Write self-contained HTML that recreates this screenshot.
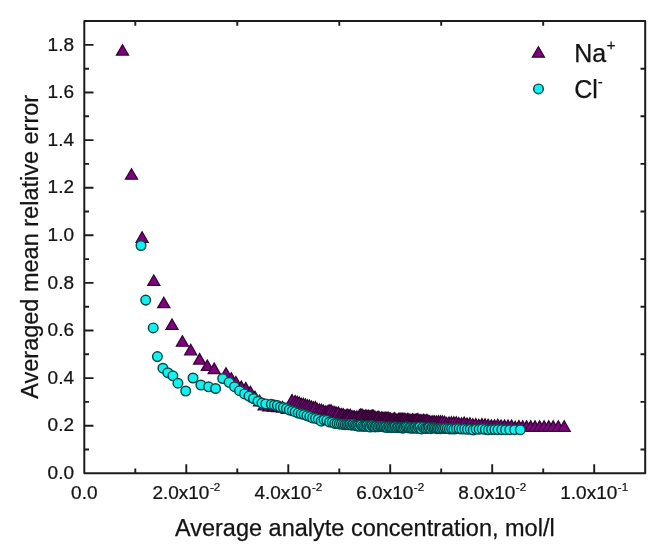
<!DOCTYPE html>
<html lang="en"><head><meta charset="utf-8"><title>Averaged mean relative error vs average analyte concentration</title>
<style>html,body{margin:0;padding:0;background:#fff}body{width:656px;height:551px;overflow:hidden}svg{display:block}text{font-family:"Liberation Sans",Arial,sans-serif;fill:#141414;stroke:#141414;stroke-width:.25px}.tk{font-size:18px}.sup{font-size:11px}.ti{font-size:23.5px}.lg{font-size:25px}.lgs{font-size:15px}</style></head><body>
<svg width="656" height="551" viewBox="0 0 656 551">
<rect width="656" height="551" fill="#fff"/>
<g fill="#800080" stroke="#330433" stroke-width="1.3" stroke-linejoin="miter">
<path d="M122.5 44.7L128.5 55.1L116.5 55.1Z"/>
<path d="M131.5 168.8L137.5 179.2L125.5 179.2Z"/>
<path d="M142.1 231.9L148.1 242.3L136.1 242.3Z"/>
<path d="M153.8 275.0L159.8 285.4L147.8 285.4Z"/>
<path d="M163.8 297.3L169.8 307.7L157.8 307.7Z"/>
<path d="M172.0 319.0L178.0 329.4L166.0 329.4Z"/>
<path d="M182.4 335.8L188.4 346.2L176.4 346.2Z"/>
<path d="M190.7 344.4L196.7 354.8L184.7 354.8Z"/>
<path d="M199.6 353.6L205.6 364.0L193.6 364.0Z"/>
<path d="M207.3 360.0L213.3 370.4L201.3 370.4Z"/>
<path d="M214.2 363.1L220.2 373.5L208.2 373.5Z"/>
<path d="M226.0 367.7L232.0 378.1L220.0 378.1Z"/>
<path d="M231.3 372.7L237.3 383.1L225.3 383.1Z"/>
<path d="M235.9 376.5L241.9 386.9L229.9 386.9Z"/>
<path d="M241.3 381.1L247.3 391.5L235.3 391.5Z"/>
<path d="M245.8 382.6L251.8 393.0L239.8 393.0Z"/>
<path d="M250.4 386.4L256.4 396.8L244.4 396.8Z"/>
<path d="M255.0 391.3L261.0 401.7L249.0 401.7Z"/>
<path d="M259.6 395.4L265.6 405.8L253.6 405.8Z"/>
<path d="M264.2 399.4L270.2 409.8L258.2 409.8Z"/>
<path d="M268.8 400.5L274.8 410.9L262.8 410.9Z"/>
<path d="M273.4 400.8L279.4 411.2L267.4 411.2Z"/>
<path d="M278.0 401.1L284.0 411.5L272.0 411.5Z"/>
<path d="M282.6 401.6L288.6 412.0L276.6 412.0Z"/>
<path d="M287.2 403.0L293.2 413.4L281.2 413.4Z"/>
<path d="M292.0 394.6L298.0 405.0L286.0 405.0Z"/>
<path d="M295.1 395.6L301.1 406.0L289.1 406.0Z"/>
<path d="M297.2 396.3L303.2 406.7L291.2 406.7Z"/>
<path d="M299.3 397.0L305.3 407.4L293.3 407.4Z"/>
<path d="M301.3 398.4L307.3 408.8L295.3 408.8Z"/>
<path d="M303.4 398.2L309.4 408.6L297.4 408.6Z"/>
<path d="M305.4 399.1L311.4 409.5L299.4 409.5Z"/>
<path d="M307.4 399.9L313.4 410.3L301.4 410.3Z"/>
<path d="M309.4 400.0L315.4 410.4L303.4 410.4Z"/>
<path d="M311.5 401.1L317.5 411.5L305.5 411.5Z"/>
<path d="M313.5 401.7L319.5 412.1L307.5 412.1Z"/>
<path d="M315.4 401.6L321.4 412.0L309.4 412.0Z"/>
<path d="M317.4 403.6L323.4 414.0L311.4 414.0Z"/>
<path d="M319.4 404.0L325.4 414.4L313.4 414.4Z"/>
<path d="M321.4 404.2L327.4 414.6L315.4 414.6Z"/>
<path d="M323.3 405.1L329.3 415.5L317.3 415.5Z"/>
<path d="M325.3 406.0L331.3 416.4L319.3 416.4Z"/>
<path d="M327.2 405.7L333.2 416.1L321.2 416.1Z"/>
<path d="M329.1 404.8L335.1 415.2L323.1 415.2Z"/>
<path d="M331.0 404.8L337.0 415.2L325.0 415.2Z"/>
<path d="M333.0 406.3L339.0 416.7L327.0 416.7Z"/>
<path d="M334.9 406.6L340.9 417.0L328.9 417.0Z"/>
<path d="M336.7 407.3L342.7 417.7L330.7 417.7Z"/>
<path d="M338.4 407.0L344.4 417.4L332.4 417.4Z"/>
<path d="M340.1 408.9L346.1 419.3L334.1 419.3Z"/>
<path d="M341.8 408.6L347.8 419.0L335.8 419.0Z"/>
<path d="M343.3 408.7L349.3 419.1L337.3 419.1Z"/>
<path d="M344.8 410.1L350.8 420.5L338.8 420.5Z"/>
<path d="M346.3 409.5L352.3 419.9L340.3 419.9Z"/>
<path d="M347.7 409.2L353.7 419.6L341.7 419.6Z"/>
<path d="M349.0 409.9L355.0 420.3L343.0 420.3Z"/>
<path d="M350.3 409.4L356.3 419.8L344.3 419.8Z"/>
<path d="M351.6 411.2L357.6 421.6L345.6 421.6Z"/>
<path d="M352.9 410.8L358.9 421.2L346.9 421.2Z"/>
<path d="M354.2 410.9L360.2 421.3L348.2 421.3Z"/>
<path d="M355.5 412.0L361.5 422.4L349.5 422.4Z"/>
<path d="M356.8 411.1L362.8 421.5L350.8 421.5Z"/>
<path d="M358.1 412.2L364.1 422.6L352.1 422.6Z"/>
<path d="M359.4 409.7L365.4 420.1L353.4 420.1Z"/>
<path d="M360.7 409.1L366.7 419.5L354.7 419.5Z"/>
<path d="M362.0 409.0L368.0 419.4L356.0 419.4Z"/>
<path d="M363.3 410.4L369.3 420.8L357.3 420.8Z"/>
<path d="M364.6 410.7L370.6 421.1L358.6 421.1Z"/>
<path d="M365.9 409.9L371.9 420.3L359.9 420.3Z"/>
<path d="M367.2 410.6L373.2 421.0L361.2 421.0Z"/>
<path d="M368.5 410.3L374.5 420.7L362.5 420.7Z"/>
<path d="M369.8 410.8L375.8 421.2L363.8 421.2Z"/>
<path d="M371.1 410.3L377.1 420.7L365.1 420.7Z"/>
<path d="M372.4 410.1L378.4 420.5L366.4 420.5Z"/>
<path d="M373.7 410.2L379.7 420.6L367.7 420.6Z"/>
<path d="M375.0 411.3L381.0 421.7L369.0 421.7Z"/>
<path d="M376.3 412.3L382.3 422.7L370.3 422.7Z"/>
<path d="M377.6 411.6L383.6 422.0L371.6 422.0Z"/>
<path d="M378.9 411.4L384.9 421.8L372.9 421.8Z"/>
<path d="M380.2 412.7L386.2 423.1L374.2 423.1Z"/>
<path d="M381.5 412.1L387.5 422.5L375.5 422.5Z"/>
<path d="M382.8 412.2L388.8 422.6L376.8 422.6Z"/>
<path d="M384.1 412.4L390.1 422.8L378.1 422.8Z"/>
<path d="M385.4 412.4L391.4 422.8L379.4 422.8Z"/>
<path d="M386.7 412.5L392.7 422.9L380.7 422.9Z"/>
<path d="M388.0 412.1L394.0 422.5L382.0 422.5Z"/>
<path d="M389.3 413.1L395.3 423.5L383.3 423.5Z"/>
<path d="M390.6 413.0L396.6 423.4L384.6 423.4Z"/>
<path d="M391.9 413.8L397.9 424.2L385.9 424.2Z"/>
<path d="M393.2 413.2L399.2 423.6L387.2 423.6Z"/>
<path d="M394.5 412.7L400.5 423.1L388.5 423.1Z"/>
<path d="M395.8 413.6L401.8 424.0L389.8 424.0Z"/>
<path d="M397.1 414.4L403.1 424.8L391.1 424.8Z"/>
<path d="M398.4 413.5L404.4 423.9L392.4 423.9Z"/>
<path d="M399.7 413.3L405.7 423.7L393.7 423.7Z"/>
<path d="M401.0 413.1L407.0 423.5L395.0 423.5Z"/>
<path d="M402.3 413.2L408.3 423.6L396.3 423.6Z"/>
<path d="M403.6 413.6L409.6 424.0L397.6 424.0Z"/>
<path d="M404.9 413.2L410.9 423.6L398.9 423.6Z"/>
<path d="M406.2 414.4L412.2 424.8L400.2 424.8Z"/>
<path d="M407.5 413.6L413.5 424.0L401.5 424.0Z"/>
<path d="M408.8 413.8L414.8 424.2L402.8 424.2Z"/>
<path d="M410.1 414.4L416.1 424.8L404.1 424.8Z"/>
<path d="M411.4 414.5L417.4 424.9L405.4 424.9Z"/>
<path d="M412.7 413.8L418.7 424.2L406.7 424.2Z"/>
<path d="M414.0 414.2L420.0 424.6L408.0 424.6Z"/>
<path d="M415.3 414.4L421.3 424.8L409.3 424.8Z"/>
<path d="M416.6 414.1L422.6 424.5L410.6 424.5Z"/>
<path d="M417.9 413.5L423.9 423.9L411.9 423.9Z"/>
<path d="M419.2 414.7L425.2 425.1L413.2 425.1Z"/>
<path d="M420.5 414.9L426.5 425.3L414.5 425.3Z"/>
<path d="M421.9 414.8L427.9 425.2L415.9 425.2Z"/>
<path d="M423.3 414.3L429.3 424.7L417.3 424.7Z"/>
<path d="M424.8 414.7L430.8 425.1L418.8 425.1Z"/>
<path d="M426.3 414.6L432.3 425.0L420.3 425.0Z"/>
<path d="M427.8 414.9L433.8 425.3L421.8 425.3Z"/>
<path d="M429.5 415.7L435.5 426.1L423.5 426.1Z"/>
<path d="M431.1 416.0L437.1 426.4L425.1 426.4Z"/>
<path d="M432.9 415.7L438.9 426.1L426.9 426.1Z"/>
<path d="M434.6 415.8L440.6 426.2L428.6 426.2Z"/>
<path d="M436.5 416.0L442.5 426.4L430.5 426.4Z"/>
<path d="M438.4 415.8L444.4 426.2L432.4 426.2Z"/>
<path d="M440.4 415.9L446.4 426.3L434.4 426.3Z"/>
<path d="M442.4 415.8L448.4 426.2L436.4 426.2Z"/>
<path d="M444.6 416.3L450.6 426.7L438.6 426.7Z"/>
<path d="M446.7 417.5L452.7 427.9L440.7 427.9Z"/>
<path d="M449.0 417.0L455.0 427.4L443.0 427.4Z"/>
<path d="M451.4 416.7L457.4 427.1L445.4 427.1Z"/>
<path d="M453.8 416.8L459.8 427.2L447.8 427.2Z"/>
<path d="M456.3 416.8L462.3 427.2L450.3 427.2Z"/>
<path d="M458.8 417.6L464.8 428.0L452.8 428.0Z"/>
<path d="M461.5 417.8L467.5 428.2L455.5 428.2Z"/>
<path d="M464.2 417.1L470.2 427.5L458.2 427.5Z"/>
<path d="M467.0 418.1L473.0 428.5L461.0 428.5Z"/>
<path d="M469.9 417.8L475.9 428.2L463.9 428.2Z"/>
<path d="M472.8 418.9L478.8 429.3L466.8 429.3Z"/>
<path d="M475.8 418.5L481.8 428.9L469.8 428.9Z"/>
<path d="M478.8 419.4L484.8 429.8L472.8 429.8Z"/>
<path d="M481.9 418.6L487.9 429.0L475.9 429.0Z"/>
<path d="M485.0 418.9L491.0 429.3L479.0 429.3Z"/>
<path d="M488.1 419.3L494.1 429.7L482.1 429.7Z"/>
<path d="M491.3 419.9L497.3 430.3L485.3 430.3Z"/>
<path d="M494.5 419.8L500.5 430.2L488.5 430.2Z"/>
<path d="M497.8 419.2L503.8 429.6L491.8 429.6Z"/>
<path d="M501.1 420.0L507.1 430.4L495.1 430.4Z"/>
<path d="M504.5 420.1L510.5 430.5L498.5 430.5Z"/>
<path d="M508.0 420.1L514.0 430.5L502.0 430.5Z"/>
<path d="M511.6 420.1L517.6 430.5L505.6 430.5Z"/>
<path d="M515.2 421.4L521.2 431.8L509.2 431.8Z"/>
<path d="M518.9 420.6L524.9 431.0L512.9 431.0Z"/>
<path d="M522.7 420.9L528.7 431.3L516.7 431.3Z"/>
<path d="M526.6 420.9L532.6 431.3L520.6 431.3Z"/>
<path d="M530.7 420.9L536.7 431.3L524.7 431.3Z"/>
<path d="M535.0 420.9L541.0 431.3L529.0 431.3Z"/>
<path d="M539.6 420.9L545.6 431.3L533.6 431.3Z"/>
<path d="M544.1 420.9L550.1 431.3L538.1 431.3Z"/>
<path d="M548.7 420.9L554.7 431.3L542.7 431.3Z"/>
<path d="M553.2 420.9L559.2 431.3L547.2 431.3Z"/>
<path d="M558.3 420.9L564.3 431.3L552.3 431.3Z"/>
<path d="M564.2 420.9L570.2 431.3L558.2 431.3Z"/>
</g>
<g fill="#12f0f0" stroke="#0a4848" stroke-width="1.45">
<circle cx="141.0" cy="245.5" r="4.8"/>
<circle cx="145.7" cy="300.1" r="4.8"/>
<circle cx="153.2" cy="327.9" r="4.8"/>
<circle cx="157.4" cy="356.6" r="4.8"/>
<circle cx="162.9" cy="368.2" r="4.8"/>
<circle cx="167.8" cy="372.7" r="4.8"/>
<circle cx="172.9" cy="375.8" r="4.8"/>
<circle cx="177.9" cy="383.2" r="4.8"/>
<circle cx="185.7" cy="391.0" r="4.8"/>
<circle cx="193.0" cy="378.0" r="4.8"/>
<circle cx="200.9" cy="385.0" r="4.8"/>
<circle cx="208.6" cy="386.8" r="4.8"/>
<circle cx="215.6" cy="388.5" r="4.8"/>
<circle cx="222.7" cy="378.5" r="4.8"/>
<circle cx="229.1" cy="382.3" r="4.8"/>
<circle cx="234.5" cy="386.7" r="4.8"/>
<circle cx="239.5" cy="390.7" r="4.8"/>
<circle cx="244.5" cy="393.9" r="4.8"/>
<circle cx="249.0" cy="396.1" r="4.8"/>
<circle cx="253.5" cy="398.5" r="4.8"/>
<circle cx="258.0" cy="401.2" r="4.8"/>
<circle cx="262.0" cy="403.1" r="4.8"/>
<circle cx="265.8" cy="403.9" r="4.8"/>
<circle cx="271.3" cy="404.3" r="4.8"/>
<circle cx="274.4" cy="405.0" r="4.8"/>
<circle cx="277.4" cy="405.5" r="4.8"/>
<circle cx="280.4" cy="407.0" r="4.8"/>
<circle cx="283.4" cy="407.6" r="4.8"/>
<circle cx="286.4" cy="408.5" r="4.8"/>
<circle cx="289.3" cy="409.9" r="4.8"/>
<circle cx="292.3" cy="410.8" r="4.8"/>
<circle cx="295.2" cy="411.7" r="4.8"/>
<circle cx="298.2" cy="413.0" r="4.8"/>
<circle cx="301.1" cy="413.8" r="4.8"/>
<circle cx="304.0" cy="414.5" r="4.8"/>
<circle cx="306.9" cy="415.6" r="4.8"/>
<circle cx="309.8" cy="416.6" r="4.8"/>
<circle cx="312.6" cy="417.9" r="4.8"/>
<circle cx="315.5" cy="418.3" r="4.8"/>
<circle cx="318.3" cy="419.2" r="4.8"/>
<circle cx="321.2" cy="421.2" r="4.8"/>
<circle cx="324.0" cy="419.8" r="4.8"/>
<circle cx="326.8" cy="420.3" r="4.8"/>
<circle cx="329.6" cy="422.0" r="4.8"/>
<circle cx="332.3" cy="422.2" r="4.8"/>
<circle cx="334.8" cy="423.4" r="4.8"/>
<circle cx="337.1" cy="423.5" r="4.8"/>
<circle cx="339.3" cy="423.9" r="4.8"/>
<circle cx="341.4" cy="424.0" r="4.8"/>
<circle cx="343.4" cy="424.4" r="4.8"/>
<circle cx="345.2" cy="424.6" r="4.8"/>
<circle cx="347.0" cy="424.5" r="4.8"/>
<circle cx="348.6" cy="424.8" r="4.8"/>
<circle cx="350.2" cy="424.4" r="4.8"/>
<circle cx="351.7" cy="425.1" r="4.8"/>
<circle cx="353.3" cy="424.4" r="4.8"/>
<circle cx="354.8" cy="425.2" r="4.8"/>
<circle cx="356.4" cy="425.7" r="4.8"/>
<circle cx="357.9" cy="425.9" r="4.8"/>
<circle cx="359.5" cy="426.3" r="4.8"/>
<circle cx="361.0" cy="425.0" r="4.8"/>
<circle cx="362.6" cy="426.1" r="4.8"/>
<circle cx="364.1" cy="426.3" r="4.8"/>
<circle cx="365.7" cy="426.3" r="4.8"/>
<circle cx="367.2" cy="425.6" r="4.8"/>
<circle cx="368.8" cy="426.3" r="4.8"/>
<circle cx="370.3" cy="427.0" r="4.8"/>
<circle cx="371.9" cy="425.6" r="4.8"/>
<circle cx="373.4" cy="426.5" r="4.8"/>
<circle cx="375.0" cy="426.9" r="4.8"/>
<circle cx="376.5" cy="426.2" r="4.8"/>
<circle cx="378.1" cy="426.8" r="4.8"/>
<circle cx="379.6" cy="426.2" r="4.8"/>
<circle cx="381.2" cy="426.4" r="4.8"/>
<circle cx="382.7" cy="426.5" r="4.8"/>
<circle cx="384.3" cy="427.0" r="4.8"/>
<circle cx="385.8" cy="426.9" r="4.8"/>
<circle cx="387.4" cy="427.5" r="4.8"/>
<circle cx="388.9" cy="426.7" r="4.8"/>
<circle cx="390.5" cy="427.2" r="4.8"/>
<circle cx="392.0" cy="427.7" r="4.8"/>
<circle cx="393.6" cy="427.5" r="4.8"/>
<circle cx="395.1" cy="426.8" r="4.8"/>
<circle cx="396.7" cy="427.7" r="4.8"/>
<circle cx="398.2" cy="427.2" r="4.8"/>
<circle cx="399.8" cy="427.6" r="4.8"/>
<circle cx="401.3" cy="427.6" r="4.8"/>
<circle cx="402.9" cy="428.1" r="4.8"/>
<circle cx="404.4" cy="427.6" r="4.8"/>
<circle cx="406.0" cy="426.8" r="4.8"/>
<circle cx="407.5" cy="427.1" r="4.8"/>
<circle cx="409.1" cy="428.0" r="4.8"/>
<circle cx="410.6" cy="427.6" r="4.8"/>
<circle cx="412.2" cy="428.3" r="4.8"/>
<circle cx="413.7" cy="427.9" r="4.8"/>
<circle cx="415.3" cy="427.6" r="4.8"/>
<circle cx="416.8" cy="428.4" r="4.8"/>
<circle cx="418.4" cy="427.6" r="4.8"/>
<circle cx="419.9" cy="427.1" r="4.8"/>
<circle cx="421.5" cy="428.9" r="4.8"/>
<circle cx="423.0" cy="427.3" r="4.8"/>
<circle cx="424.6" cy="428.4" r="4.8"/>
<circle cx="426.1" cy="428.5" r="4.8"/>
<circle cx="427.7" cy="428.2" r="4.8"/>
<circle cx="429.2" cy="427.5" r="4.8"/>
<circle cx="430.8" cy="428.7" r="4.8"/>
<circle cx="432.3" cy="427.7" r="4.8"/>
<circle cx="433.9" cy="427.7" r="4.8"/>
<circle cx="435.4" cy="428.2" r="4.8"/>
<circle cx="437.0" cy="428.7" r="4.8"/>
<circle cx="438.5" cy="428.5" r="4.8"/>
<circle cx="440.1" cy="428.8" r="4.8"/>
<circle cx="441.7" cy="428.3" r="4.8"/>
<circle cx="443.5" cy="428.5" r="4.8"/>
<circle cx="445.3" cy="428.1" r="4.8"/>
<circle cx="447.3" cy="428.5" r="4.8"/>
<circle cx="449.4" cy="428.9" r="4.8"/>
<circle cx="451.6" cy="428.6" r="4.8"/>
<circle cx="453.9" cy="429.0" r="4.8"/>
<circle cx="456.4" cy="428.6" r="4.8"/>
<circle cx="459.1" cy="428.6" r="4.8"/>
<circle cx="461.8" cy="429.0" r="4.8"/>
<circle cx="464.6" cy="428.9" r="4.8"/>
<circle cx="467.4" cy="429.3" r="4.8"/>
<circle cx="470.3" cy="429.2" r="4.8"/>
<circle cx="473.2" cy="429.9" r="4.8"/>
<circle cx="476.1" cy="429.1" r="4.8"/>
<circle cx="479.1" cy="429.2" r="4.8"/>
<circle cx="482.2" cy="428.9" r="4.8"/>
<circle cx="485.3" cy="429.4" r="4.8"/>
<circle cx="488.4" cy="429.8" r="4.8"/>
<circle cx="491.6" cy="429.5" r="4.8"/>
<circle cx="494.8" cy="429.5" r="4.8"/>
<circle cx="498.0" cy="429.6" r="4.8"/>
<circle cx="501.8" cy="429.6" r="4.8"/>
<circle cx="505.5" cy="429.7" r="4.8"/>
<circle cx="509.8" cy="429.7" r="4.8"/>
<circle cx="514.6" cy="429.7" r="4.8"/>
<circle cx="520.3" cy="429.8" r="4.8"/>
</g>
<g stroke="#1c1c1c" stroke-width="2" fill="none" stroke-linecap="butt" stroke-linejoin="round">
<rect x="84.3" y="21.1" width="560.9" height="452.2"/>
<path d="M135.3 473.3v-4.7M135.3 21.1v4.7M186.3 473.3v-9M237.3 473.3v-4.7M237.3 21.1v4.7M288.3 473.3v-9M339.3 473.3v-4.7M339.3 21.1v4.7M390.2 473.3v-9M441.2 473.3v-4.7M441.2 21.1v4.7M492.2 473.3v-9M543.2 473.3v-4.7M543.2 21.1v4.7M594.2 473.3v-9M84.3 449.5h4.7M645.2 449.5h-4.7M84.3 425.7h9.2M84.3 401.9h4.7M645.2 401.9h-4.7M84.3 378.1h9.2M84.3 354.3h4.7M645.2 354.3h-4.7M84.3 330.5h9.2M84.3 306.7h4.7M645.2 306.7h-4.7M84.3 282.9h9.2M84.3 259.1h4.7M645.2 259.1h-4.7M84.3 235.3h9.2M84.3 211.5h4.7M645.2 211.5h-4.7M84.3 187.7h9.2M84.3 163.9h4.7M645.2 163.9h-4.7M84.3 140.1h9.2M84.3 116.3h4.7M645.2 116.3h-4.7M84.3 92.5h9.2M84.3 68.7h4.7M645.2 68.7h-4.7M84.3 44.9h9.2" stroke-width="1.9"/>
</g>
<text class="tk" transform="translate(74.0 478.9) scale(1.055 1)" text-anchor="end">0.0</text>
<text class="tk" transform="translate(74.0 431.3) scale(1.055 1)" text-anchor="end">0.2</text>
<text class="tk" transform="translate(74.0 383.7) scale(1.055 1)" text-anchor="end">0.4</text>
<text class="tk" transform="translate(74.0 336.1) scale(1.055 1)" text-anchor="end">0.6</text>
<text class="tk" transform="translate(74.0 288.5) scale(1.055 1)" text-anchor="end">0.8</text>
<text class="tk" transform="translate(74.0 240.9) scale(1.055 1)" text-anchor="end">1.0</text>
<text class="tk" transform="translate(74.0 193.3) scale(1.055 1)" text-anchor="end">1.2</text>
<text class="tk" transform="translate(74.0 145.7) scale(1.055 1)" text-anchor="end">1.4</text>
<text class="tk" transform="translate(74.0 98.1) scale(1.055 1)" text-anchor="end">1.6</text>
<text class="tk" transform="translate(74.0 50.5) scale(1.055 1)" text-anchor="end">1.8</text>
<text class="tk" transform="translate(84.3 499.4) scale(1.055 1)" text-anchor="middle">0.0</text>
<text class="tk" transform="translate(186.3 499.4) scale(1.055 1)" text-anchor="middle">2.0x10<tspan class="sup" dx="0.5" dy="-8.3">-2</tspan></text>
<text class="tk" transform="translate(288.3 499.4) scale(1.055 1)" text-anchor="middle">4.0x10<tspan class="sup" dx="0.5" dy="-8.3">-2</tspan></text>
<text class="tk" transform="translate(390.2 499.4) scale(1.055 1)" text-anchor="middle">6.0x10<tspan class="sup" dx="0.5" dy="-8.3">-2</tspan></text>
<text class="tk" transform="translate(492.2 499.4) scale(1.055 1)" text-anchor="middle">8.0x10<tspan class="sup" dx="0.5" dy="-8.3">-2</tspan></text>
<text class="tk" transform="translate(594.2 499.4) scale(1.055 1)" text-anchor="middle">1.0x10<tspan class="sup" dx="0.5" dy="-8.3">-1</tspan></text>
<text class="ti" x="364.8" y="536.4" text-anchor="middle">Average analyte concentration, mol/l</text>
<text class="ti" transform="translate(38.0 246.8) rotate(-90)" text-anchor="middle">Averaged mean relative error</text>
<g fill="#800080" stroke="#330433" stroke-width="1.3"><path d="M538.4 46.8L544.4 57.2L532.4 57.2Z"/></g>
<g fill="#12f0f0" stroke="#0a4848" stroke-width="1.45"><circle cx="538.5" cy="88.9" r="4.8"/></g>
<text class="lg" x="574.3" y="61.9">Na<tspan class="lgs" dx="0.5" dy="-12">+</tspan></text>
<text class="lg" x="574.3" y="97.5">Cl<tspan class="lgs" dx="-0.2" dy="-10.6">-</tspan></text>
</svg></body></html>
